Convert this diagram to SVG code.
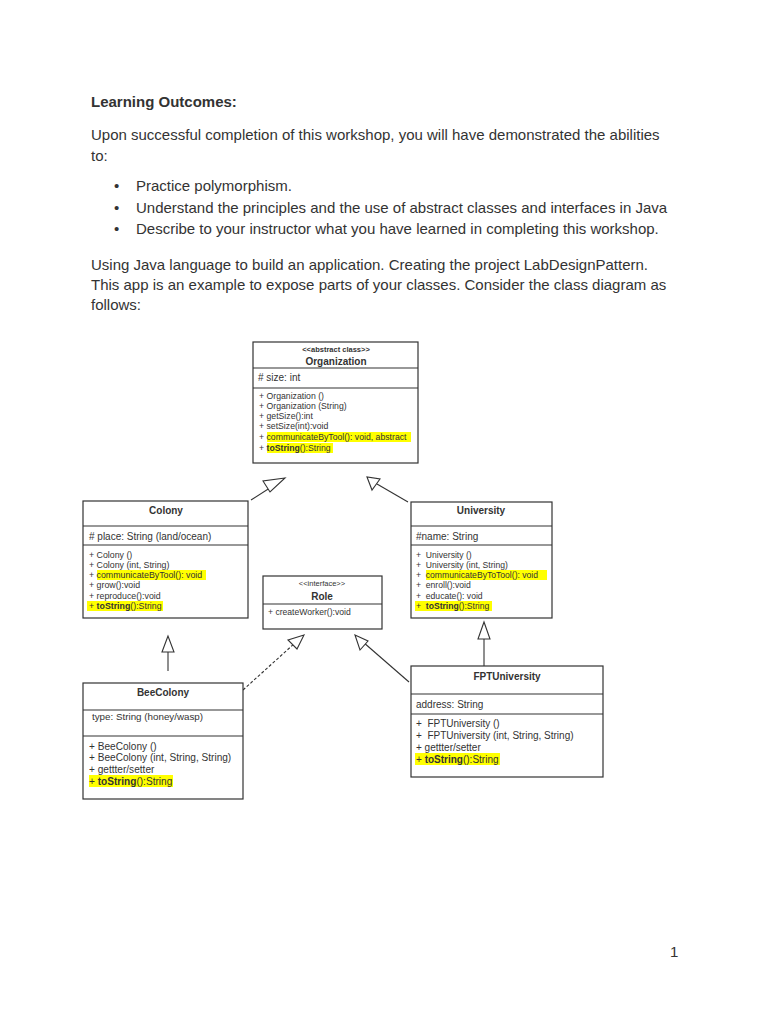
<svg xmlns="http://www.w3.org/2000/svg" width="768" height="1024" viewBox="0 0 768 1024">
<style>
  .p { font-family: "Liberation Sans", Arial, sans-serif; font-size: 15px; fill: #333; }
  .h { font-family: "Liberation Sans", Arial, sans-serif; font-size: 15px; font-weight: bold; fill: #333; }
  .box { fill: #fff; stroke: #333; stroke-width: 1.2; }
  .div { stroke: #333; stroke-width: 1.2; }
  .t { font-family: "Liberation Sans", Arial, sans-serif; fill: #333; white-space: pre; }
  .nm { font-weight: bold; font-size: 10px; text-anchor: middle; }
  .st { font-size: 7.5px; text-anchor: middle; }
  .hl { fill: #ffff00; }
  .con { stroke: #333; stroke-width: 1.1; fill: none; }
  .tri { fill: #fff; stroke: #333; stroke-width: 1.1; }
</style>
<rect width="768" height="1024" fill="#fff"/>

<text class="h" x="91" y="107">Learning Outcomes:</text>
<text class="p" x="91" y="140">Upon successful completion of this workshop, you will have demonstrated the abilities</text>
<text class="p" x="91" y="161">to:</text>
<text class="p" x="114" y="191">•</text>
<text class="p" x="136" y="191">Practice polymorphism.</text>
<text class="p" x="114" y="213">•</text>
<text class="p" x="136" y="213">Understand the principles and the use of abstract classes and interfaces in Java</text>
<text class="p" x="114" y="234">•</text>
<text class="p" x="136" y="234">Describe to your instructor what you have learned in completing this workshop.</text>
<text class="p" x="91" y="270">Using Java language to build an application. Creating the project LabDesignPattern.</text>
<text class="p" x="91" y="290">This app is an example to expose parts of your classes. Consider the class diagram as</text>
<text class="p" x="91" y="310">follows:</text>

<g id="connectors">
  <line class="con" x1="251" y1="500" x2="276" y2="484"/>
  <polygon class="tri" points="285,478 263,481 270,492"/>
  <line class="con" x1="408" y1="502" x2="377" y2="484"/>
  <polygon class="tri" points="367,477 372,490 380,479"/>
  <line class="con" x1="168" y1="671" x2="168" y2="652"/>
  <polygon class="tri" points="168,636 162,652 174,652"/>
  <line class="con" x1="243" y1="690" x2="295" y2="643" stroke-dasharray="3,2"/>
  <polygon class="tri" points="304,635 288,640 297,649"/>
  <line class="con" x1="409" y1="682" x2="363" y2="642"/>
  <polygon class="tri" points="355,635 360,650 368,641"/>
  <line class="con" x1="484" y1="666" x2="484" y2="639"/>
  <polygon class="tri" points="484,622 478,639 490,639"/>
</g>

<g id="Organization">
  <rect class="box" x="253" y="342" width="165" height="121"/>
  <line class="div" x1="253" y1="368" x2="418" y2="368"/>
  <line class="div" x1="253" y1="388" x2="418" y2="388"/>
  <text class="t st" x="336" y="352" font-weight="bold" font-size="7">&lt;&lt;abstract class&gt;&gt;</text>
  <text class="t nm" x="336" y="365">Organization</text>
  <text class="t" x="258" y="381" font-size="10"># size: int</text>
  <rect class="hl" x="267" y="432" width="144" height="10"/>
  <rect class="hl" x="267" y="443" width="66" height="10"/>
  <g font-size="8.7">
    <text class="t" x="259" y="399">+ Organization ()</text>
    <text class="t" x="259" y="409">+ Organization (String)</text>
    <text class="t" x="259" y="419">+ getSize():int</text>
    <text class="t" x="259" y="429">+ setSize(int):void</text>
    <text class="t" x="259" y="440">+ communicateByTool(): void, abstract</text>
    <text class="t" x="259" y="451">+ <tspan font-weight="bold">toString</tspan>():String</text>
  </g>
</g>

<g id="Colony">
  <rect class="box" x="83" y="501" width="165" height="117"/>
  <line class="div" x1="83" y1="526" x2="248" y2="526"/>
  <line class="div" x1="83" y1="545" x2="248" y2="545"/>
  <text class="t nm" x="166" y="514">Colony</text>
  <text class="t" x="89" y="540" font-size="10"># place: String (land/ocean)</text>
  <rect class="hl" x="97" y="570" width="109" height="10"/>
  <rect class="hl" x="87" y="601" width="76" height="10"/>
  <g font-size="8.8">
    <text class="t" x="89" y="558">+ Colony ()</text>
    <text class="t" x="89" y="568">+ Colony (int, String)</text>
    <text class="t" x="89" y="578">+ communicateByTool(): void</text>
    <text class="t" x="89" y="588">+ grow():void</text>
    <text class="t" x="89" y="599">+ reproduce():void</text>
    <text class="t" x="89" y="609">+ <tspan font-weight="bold">toString</tspan>():String</text>
  </g>
</g>

<g id="University">
  <rect class="box" x="411" y="502" width="141" height="116"/>
  <line class="div" x1="411" y1="526" x2="552" y2="526"/>
  <line class="div" x1="411" y1="545" x2="552" y2="545"/>
  <text class="t nm" x="481" y="514">University</text>
  <text class="t" x="416" y="540" font-size="10">#name: String</text>
  <rect class="hl" x="426" y="570" width="121" height="10"/>
  <rect class="hl" x="415" y="601" width="77" height="10"/>
  <g font-size="8.6">
    <text class="t" x="416" y="558">+  University ()</text>
    <text class="t" x="416" y="568">+  University (int, String)</text>
    <text class="t" x="416" y="578">+  communicateByToTool(): void</text>
    <text class="t" x="416" y="588">+  enroll():void</text>
    <text class="t" x="416" y="599">+  educate(): void</text>
    <text class="t" x="416" y="609">+  <tspan font-weight="bold">toString</tspan>():String</text>
  </g>
</g>

<g id="Role">
  <rect class="box" x="263" y="576" width="119" height="53"/>
  <line class="div" x1="263" y1="604" x2="382" y2="604"/>
  <text class="t st" x="322" y="586" font-size="8">&lt;&lt;interface&gt;&gt;</text>
  <text class="t nm" x="322" y="600">Role</text>
  <text class="t" x="268" y="615" font-size="8.6">+ createWorker():void</text>
</g>

<g id="BeeColony">
  <rect class="box" x="83" y="683" width="160" height="116"/>
  <line class="div" x1="83" y1="710" x2="243" y2="710"/>
  <line class="div" x1="83" y1="736" x2="243" y2="736"/>
  <text class="t nm" x="163" y="696">BeeColony</text>
  <text class="t" x="92" y="720" font-size="9.8">type: String (honey/wasp)</text>
  <rect class="hl" x="89" y="775" width="84" height="12"/>
  <g font-size="10.1">
    <text class="t" x="89" y="750">+ BeeColony ()</text>
    <text class="t" x="89" y="761">+ BeeColony (int, String, String)</text>
    <text class="t" x="89" y="773">+ gettter/setter</text>
    <text class="t" x="89" y="785">+ <tspan font-weight="bold">toString</tspan>():String</text>
  </g>
</g>

<g id="FPTUniversity">
  <rect class="box" x="411" y="666" width="192" height="111"/>
  <line class="div" x1="411" y1="694" x2="603" y2="694"/>
  <line class="div" x1="411" y1="714" x2="603" y2="714"/>
  <text class="t nm" x="507" y="680">FPTUniversity</text>
  <text class="t" x="416" y="708" font-size="10">address: String</text>
  <rect class="hl" x="415" y="753" width="85" height="12"/>
  <g font-size="10">
    <text class="t" x="416" y="727">+  FPTUniversity ()</text>
    <text class="t" x="416" y="739">+  FPTUniversity (int, String, String)</text>
    <text class="t" x="416" y="751">+ gettter/setter</text>
    <text class="t" x="416" y="763">+ <tspan font-weight="bold">toString</tspan>():String</text>
  </g>
</g>

<text class="p" x="670" y="957" font-size="13">1</text>
</svg>
